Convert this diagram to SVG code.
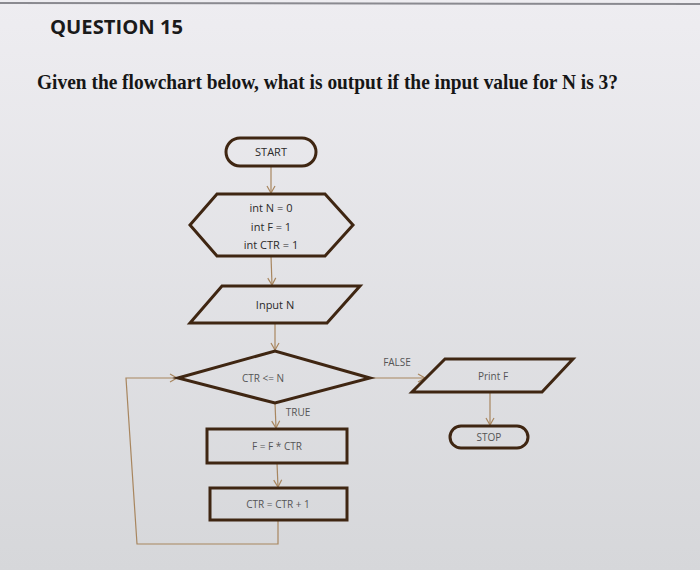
<svg xmlns="http://www.w3.org/2000/svg" width="700" height="570" viewBox="0 0 700 570">
<defs>
<linearGradient id="bg" x1="0" y1="0" x2="0" y2="1">
<stop offset="0" stop-color="#eeedf1"/>
<stop offset="1" stop-color="#d6d7da"/>
</linearGradient>
<marker id="arr" markerWidth="10" markerHeight="10" refX="8" refY="5" orient="auto" markerUnits="userSpaceOnUse">
<polyline points="1,1 8,5 1,9" fill="none" stroke="#a8865f" stroke-width="1.2"/>
</marker>
<style>
.shape{fill:none;stroke:#3f2612;stroke-width:3;stroke-linejoin:miter}
.conn{fill:none;stroke:#a8865f;stroke-width:1.2}
.t{font-family:"Open Sans","Liberation Sans",sans-serif;font-size:11px;fill:#2a2a2a;text-anchor:middle}
.tl{font-family:"Open Sans","Liberation Sans",sans-serif;font-size:10px;fill:#555;text-anchor:middle}
</style>
</defs>
<rect x="0" y="0" width="700" height="570" fill="url(#bg)"/>
<line x1="0" y1="3" x2="700" y2="4" stroke="#8a8a90" stroke-width="2"/>
<text x="50" y="34" font-family="Open Sans, Liberation Sans, sans-serif" font-weight="700" font-size="20" fill="#1a1a1a" textLength="133" lengthAdjust="spacingAndGlyphs">QUESTION 15</text>
<text x="37" y="89" font-family="Liberation Serif, serif" font-weight="700" font-size="22" fill="#161616" textLength="581" lengthAdjust="spacingAndGlyphs">Given the flowchart below, what is output if the input value for N is 3?</text>

<g id="connectors">
<line class="conn" x1="271" y1="166" x2="271" y2="193" marker-end="url(#arr)"/>
<line class="conn" x1="271" y1="256" x2="272" y2="285" marker-end="url(#arr)"/>
<line class="conn" x1="275" y1="323" x2="275" y2="350" marker-end="url(#arr)"/>
<line class="conn" x1="275" y1="403" x2="276" y2="428" marker-end="url(#arr)"/>
<line class="conn" x1="277" y1="463" x2="278" y2="487" marker-end="url(#arr)"/>
<polyline class="conn" points="278,520 278,544 137,544 126,378 177,378" marker-end="url(#arr)"/>
<line class="conn" x1="370" y1="378" x2="425" y2="378" marker-end="url(#arr)"/>
<line class="conn" x1="490" y1="392" x2="490" y2="425" marker-end="url(#arr)"/>
<text x="397" y="366" class="tl" fill="#333">FALSE</text>
<text x="298" y="416" class="tl">TRUE</text>
</g>

<g id="start">
<rect class="shape" x="226" y="138" width="90" height="28" rx="14"/>
<text class="t" x="271" y="156" font-size="12">START</text>
</g>
<g id="init">
<polygon class="shape" points="190,225 217,194 325,194 353,225 325,256 217,256"/>
<text class="t" x="271" y="212">int N = 0</text>
<text class="t" x="271" y="231">int F = 1</text>
<text class="t" x="271" y="249">int CTR = 1</text>
</g>
<g id="input">
<polygon class="shape" points="222,286 360,286 327,323 190,323"/>
<text class="t" x="275" y="309" font-size="10">Input N</text>
</g>
<g id="decision">
<polygon class="shape" points="178,378 275,351 370,378 275,403"/>
<text class="tl" x="263" y="382">CTR &lt;= N</text>
</g>
<g id="print">
<polygon class="shape" points="445,359 573,359 542,392 412,392"/>
<text class="tl" x="493" y="380">Print F</text>
</g>
<g id="stop">
<rect class="shape" x="450" y="426" width="78" height="22" rx="11"/>
<text class="tl" x="489" y="441">STOP</text>
</g>
<g id="mult">
<rect class="shape" x="207" y="429" width="140" height="34"/>
<text class="tl" x="277" y="450">F = F * CTR</text>
</g>
<g id="incr">
<rect class="shape" x="210" y="488" width="137" height="32"/>
<text class="tl" x="278" y="508">CTR = CTR + 1</text>
</g>
</svg>
